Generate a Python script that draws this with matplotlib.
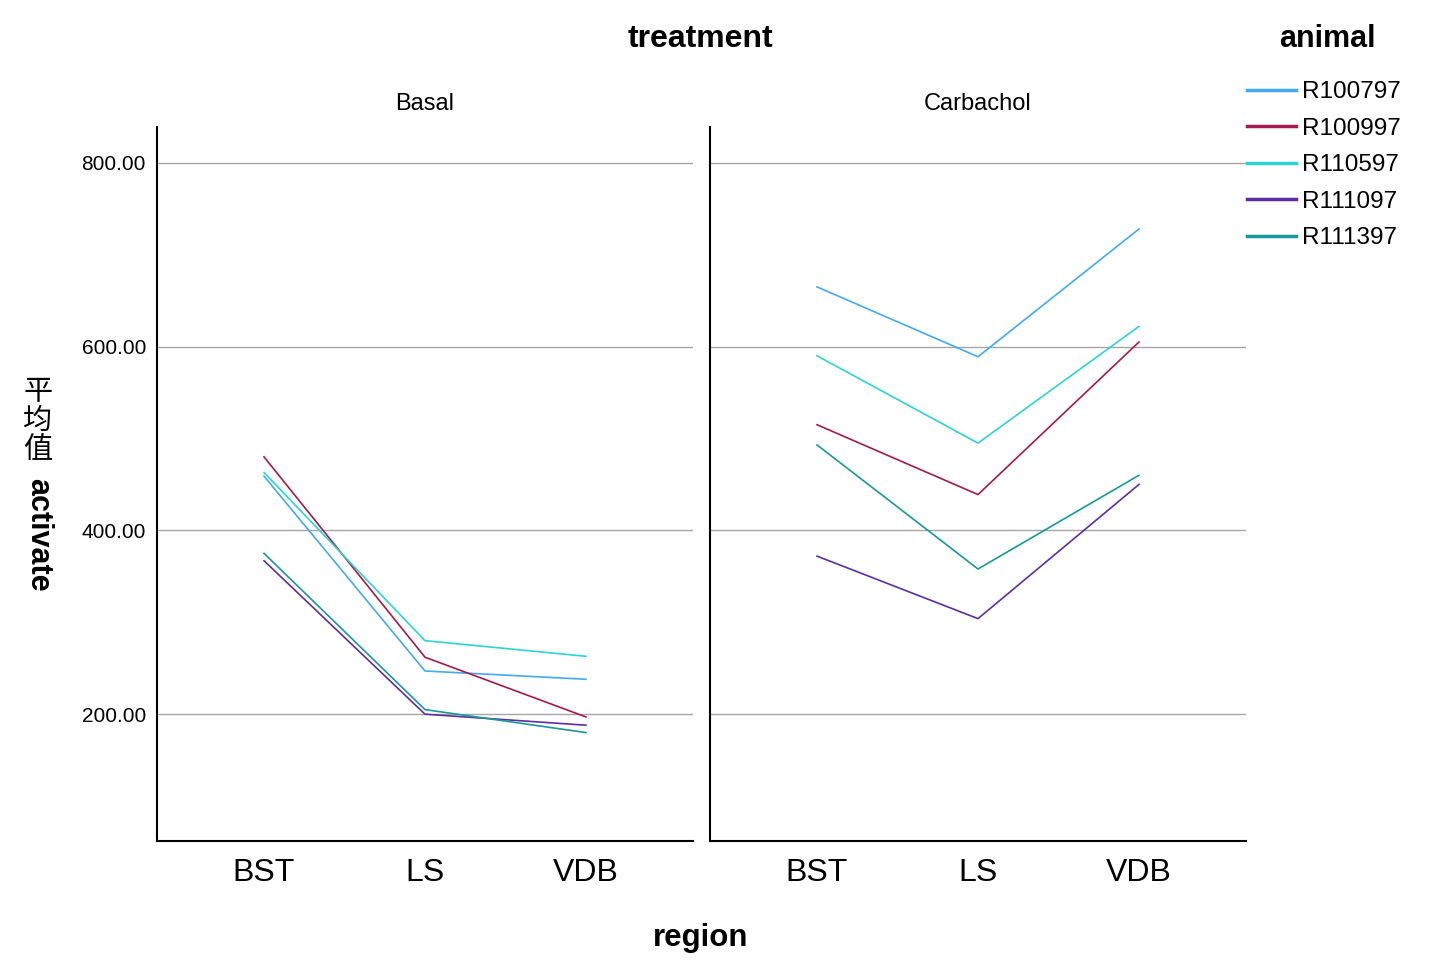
import matplotlib
matplotlib.use('Agg')
import matplotlib.pyplot as plt

plt.rcParams['font.family'] = ['Liberation Sans', 'Noto Sans CJK SC', 'DejaVu Sans']

regions = ['BST', 'LS', 'VDB']
treatments = ['Basal', 'Carbachol']
animals = ['R100797', 'R100997', 'R110597', 'R111097', 'R111397']
colors = ['#43a9f5', '#a6194e', '#2ed3d3', '#5b2ea3', '#17999a']

# mean activate per animal, order BST, LS, VDB
basal = [
    [459, 247, 238],
    [480, 262, 197],
    [463, 280, 263],
    [367, 200, 188],
    [375, 205, 180],
]
carbachol = [
    [665, 589, 728],
    [515, 439, 605],
    [590, 495, 622],
    [372, 304, 450],
    [493, 358, 460],
]
values = [basal, carbachol]
yticks = [200, 400, 600, 800]

fig = plt.figure(figsize=(14.4, 9.66), dpi=100)
lefts = [157 / 1440, 710 / 1440]
axes = []
for i, tr in enumerate(treatments):
    ax = fig.add_axes([lefts[i], 1 - 841 / 966, 536 / 1440, 714 / 966])
    axes.append(ax)
    for y in yticks:
        ax.axhline(y, color='#a6a6a6', lw=1.0, zorder=1)
    for j, a in enumerate(animals):
        ax.plot(range(len(regions)), values[i][j], color=colors[j], lw=1.2,
                label=a, zorder=3)
    ax.set_xlim(-0.665, 2.665)
    ax.set_ylim(62, 839)
    ax.set_xticks(range(len(regions)))
    ax.set_xticklabels(regions, fontsize=23)
    ax.set_yticks(yticks)
    if i == 0:
        ax.set_yticklabels(['%.2f' % y for y in yticks], fontsize=15)
    else:
        ax.set_yticklabels([])
    ax.tick_params(axis='y', length=0, pad=8)
    ax.tick_params(axis='x', length=0, pad=12)
    for s in ['top', 'right']:
        ax.spines[s].set_visible(False)
    for s in ['left', 'bottom']:
        ax.spines[s].set_linewidth(1.5)
        ax.spines[s].set_color('black')
    ax.set_title(tr, fontsize=17, pad=12)

fig.text(700 / 1440, 1 - 39 / 966, 'treatment', fontsize=23, fontweight='bold',
         ha='center', va='center')
fig.text(701 / 1440, 1 - 938 / 966, 'region', fontsize=22.5, fontweight='bold',
         ha='center', va='center')
fig.text(1327 / 1440, 1 - 39 / 966, 'animal', fontsize=22, fontweight='bold',
         ha='center', va='center')

# y label: CJK upright, latin rotated
fig.text(38 / 1440, 1 - 421 / 966, '平\n均\n值', fontsize=21,
         ha='center', va='center', linespacing=0.95,
         family=['Noto Sans CJK SC'])
fig.text(38 / 1440, 1 - 535 / 966, 'activate', fontsize=22, fontweight='bold',
         rotation=270, ha='center', va='center')

handles, labels = axes[0].get_legend_handles_labels()
leg = fig.legend(handles, labels, loc='upper left',
                 bbox_to_anchor=(1247 / 1440, 1 - 81 / 966),
                 frameon=False, fontsize=17.5, handlelength=2.0,
                 handletextpad=0.25, labelspacing=0.6, borderpad=0,
                 borderaxespad=0)
for h in leg.get_lines():
    h.set_linewidth(2.5)

fig.savefig('out.png', dpi=100)
